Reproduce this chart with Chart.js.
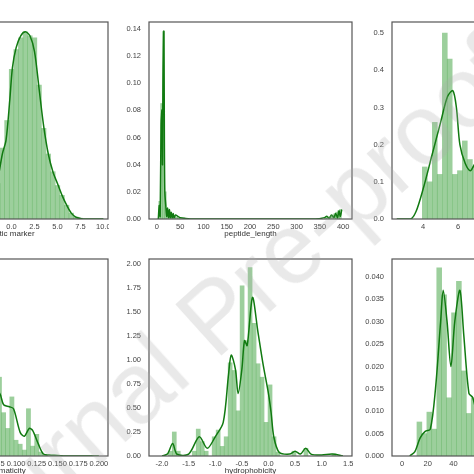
<!DOCTYPE html>
<html>
<head>
<meta charset="utf-8">
<script src="https://cdn.jsdelivr.net/npm/chart.js@4.4.1/dist/chart.umd.min.js"></script>
<style>
  body { margin: 0; width: 474px; height: 474px; overflow: hidden; background: #fff; position: relative; }
  .box { position: absolute; width: 244px; height: 223px; }
  #wm { position: absolute; left: 215px; top: 315px; font: 100px "Liberation Sans", Arial, sans-serif; color: rgba(170,170,170,0.26);
        transform: translate(-50%, -50%) rotate(-42deg); white-space: nowrap; pointer-events: none; }
</style>
</head>
<body>
<div class="box" style="left:-135px;top:16px"><canvas id="c1"></canvas></div>
<div class="box" style="left:109px;top:16px"><canvas id="c2"></canvas></div>
<div class="box" style="left:352px;top:16px"><canvas id="c3"></canvas></div>
<div class="box" style="left:-135px;top:253px"><canvas id="c4"></canvas></div>
<div class="box" style="left:109px;top:253px"><canvas id="c5"></canvas></div>
<div class="box" style="left:352px;top:253px"><canvas id="c6"></canvas></div>
<div id="wm">Journal Pre-proof</div>
<script>
// top left: marker
const tlBinX = [-2.0, -1.5, -1.0, -0.5, 0.0, 0.5, 1.0, 1.5, 2.0, 2.5, 3.0, 3.5, 4.0, 4.5, 5.0, 5.5, 6.0, 6.5, 7.0, 7.5];
const tlBinY = [0.08, 0.18, 0.36, 0.5, 0.76, 0.86, 0.92, 0.95, 0.93, 0.92, 0.68, 0.46, 0.33, 0.24, 0.17, 0.12, 0.07, 0.03, 0.01, 0.004];
const tlKdeX = [-4, -3, -2, -1.5, -1, -0.6, -0.2, 0.1, 0.5, 1.0, 1.5, 2.0, 2.5, 3.0, 3.5, 4.0, 4.5, 5.0, 5.5, 6.0, 6.5, 7.0, 7.5, 8.0, 10.0];
const tlKdeY = [0, 0.02, 0.1, 0.2, 0.33, 0.4, 0.6, 0.77, 0.87, 0.93, 0.95, 0.93, 0.85, 0.66, 0.47, 0.33, 0.24, 0.18, 0.12, 0.07, 0.03, 0.01, 0.003, 0, 0];

// top middle: peptide_length
const tmBinX = [2, 6, 10, 14, 18, 22, 26, 30, 34, 38, 42, 46, 50, 54, 58, 362, 366, 370, 374, 378, 382, 386, 390, 394];
const tmBinY = [0, 0.013, 0.085, 0.138, 0.02, 0.007, 0.005, 0.004, 0.003, 0.002, 0.0015, 0.001, 0.001, 0.0008, 0.0006, 0.0008, 0.001, 0.0015, 0.002, 0.003, 0.004, 0.005, 0.006, 0.007];
const tmKdeX = [3, 5, 7, 9, 11, 12, 13, 15, 16, 17, 19, 21, 23, 25, 27, 29, 31, 33, 35, 37, 40, 45, 50, 60, 80, 340, 360, 365, 370, 375, 380, 384, 388, 391, 394, 397];
const tmKdeY = [0, 0.01, 0.002, 0.07, 0.08, 0.04, 0.1, 0.138, 0.06, 0.02, 0.01, 0.002, 0.008, 0.001, 0.007, 0.001, 0.005, 0.001, 0.004, 0.001, 0.003, 0.002, 0.001, 0.0005, 0, 0, 0.001, 0.002, 0.0005, 0.003, 0.001, 0.004, 0.001, 0.006, 0.002, 0.007];

// top right: length
const trBinX = [4.10, 4.38, 4.67, 4.95, 5.24, 5.52, 5.81, 6.10, 6.38, 6.67, 6.95, 7.24, 7.52, 7.81, 8.10, 8.38];
const trBinY = [0.14, 0.1, 0.26, 0.12, 0.5, 0.43, 0.12, 0.13, 0.21, 0.16, 0.14, 0.12, 0.08, 0.05, 0.03, 0.02];
const trKdeX = [2.5, 3.3, 3.6, 4.0, 4.5, 5.0, 5.4, 5.7, 5.9, 6.1, 6.4, 6.7, 7.0, 7.3, 7.8, 8.5, 9.5, 10.5, 13.5];
const trKdeY = [0, 0, 0.02, 0.08, 0.17, 0.26, 0.33, 0.345, 0.3, 0.2, 0.15, 0.13, 0.15, 0.14, 0.1, 0.05, 0.01, 0, 0];

// bottom left: aromaticity
const blBinX = [0.070, 0.075, 0.080, 0.085, 0.090, 0.095, 0.100, 0.105, 0.110, 0.115, 0.120, 0.125, 0.130, 0.135];
const blBinY = [0.3, 0.36, 0.4, 0.22, 0.14, 0.3, 0.08, 0.06, 0.03, 0.24, 0.05, 0.11, 0.02, 0.005];
const blKdeX = [0.06, 0.07, 0.08, 0.085, 0.092, 0.097, 0.105, 0.11, 0.116, 0.12, 0.127, 0.133, 0.14, 0.15, 0.16, 0.2];
const blKdeY = [0.3, 0.34, 0.32, 0.26, 0.25, 0.24, 0.12, 0.1, 0.14, 0.13, 0.06, 0.01, 0.005, 0.003, 0, 0];

// bottom middle: hydrophobicity
const bmBinX = [-1.845, -1.77, -1.695, -1.395, -1.32, -1.245, -1.17, -1.02, -0.945, -0.87, -0.795, -0.72, -0.645, -0.57, -0.495, -0.42, -0.345, -0.27, -0.195, -0.12, -0.045, 0.03, 0.105, 0.18, 0.48, 0.705, 1.23];
const bmBinY = [0.05, 0.25, 0.05, 0.05, 0.28, 0.15, 0.05, 0.2, 0.27, 0.1, 0.2, 0.97, 0.89, 0.47, 1.77, 1.2, 1.96, 1.38, 0.96, 0.82, 0.35, 0.74, 0.2, 0.04, 0.05, 0.08, 0.02];
const bmKdeX = [-2.0, -1.9, -1.8, -1.72, -1.5, -1.3, -1.15, -1.0, -0.85, -0.75, -0.7, -0.62, -0.57, -0.5, -0.45, -0.4, -0.3, -0.2, -0.1, 0.0, 0.05, 0.1, 0.2, 0.4, 0.5, 0.6, 0.7, 0.8, 1.0, 1.2, 1.4];
const bmKdeY = [0, 0.02, 0.13, 0.02, 0.02, 0.2, 0.08, 0.2, 0.35, 0.85, 1.05, 0.9, 0.65, 0.9, 1.2, 1.15, 1.65, 1.3, 0.95, 0.65, 0.45, 0.2, 0.04, 0.02, 0.05, 0.02, 0.08, 0.02, 0.01, 0.02, 0];

// bottom right
const brBinX = [13.5, 17.4, 21.2, 25.0, 28.9, 32.7, 36.5, 40.4, 44.2, 48.1, 51.9, 55.7, 59.6, 63.4];
const brBinY = [0.0076, 0.005, 0.0098, 0.006, 0.042, 0.036, 0.013, 0.032, 0.039, 0.019, 0.0095, 0.013, 0.006, 0.003];
const brKdeX = [6, 10, 14, 18, 22, 26, 30, 32, 35, 38, 41, 45, 48, 52, 55, 60, 66, 75];
const brKdeY = [0, 0.001, 0.004, 0.0055, 0.006, 0.015, 0.03, 0.037, 0.03, 0.02, 0.03, 0.037, 0.027, 0.014, 0.013, 0.007, 0.002, 0];

const FONT = "'Liberation Sans', Arial, sans-serif";

const frame = {
  id: 'frame',
  afterDraw(chart) {
    const a = chart.chartArea, ctx = chart.ctx;
    ctx.save();
    ctx.strokeStyle = '#555';
    ctx.lineWidth = 1.2;
    ctx.strokeRect(a.left, a.top, a.right - a.left, a.bottom - a.top);
    ctx.restore();
  }
};

function pts(xs, ys) { return xs.map((x, i) => ({ x: x, y: ys[i] })); }

// ticks on every multiple of step inside the range
function onStep(step) {
  return function (scale) {
    const out = [];
    for (let k = Math.ceil(scale.min / step - 1e-6); k * step <= scale.max + 1e-9; k++) {
      out.push({ value: +(k * step).toFixed(6) });
    }
    scale.ticks = out;
  };
}

function makeChart(id, binX, binY, kdeX, kdeY, o) {
  new Chart(document.getElementById(id), {
    type: 'bar',
    data: {
      datasets: [
        { type: 'line', data: pts(kdeX, kdeY), borderColor: '#117a11', borderWidth: 1.5, pointRadius: 0, tension: 0.3, order: 0 },
        { data: pts(binX, binY), backgroundColor: 'rgba(90,175,90,0.6)', barPercentage: 1, categoryPercentage: 1, order: 1 }
      ]
    },
    options: {
      animation: false,
      responsive: true,
      maintainAspectRatio: false,
      layout: { padding: { top: 6, right: 1 } },
      plugins: { legend: { display: false }, tooltip: { enabled: false } },
      scales: {
        x: {
          type: 'linear', min: o.xmin, max: o.xmax, offset: false,
          grid: { display: false, drawTicks: false, tickLength: 0 }, border: { display: false },
          ticks: { color: '#444', font: { family: FONT, size: 7.5 }, padding: 3, maxRotation: 0, autoSkip: false,
                   callback: v => v.toFixed(o.xdec) },
          afterBuildTicks: onStep(o.xstep),
          afterFit: s => { s.height = 20; s.paddingLeft = 0; s.paddingRight = 0; },
          title: { display: true, text: o.label, color: '#333', font: { family: FONT, size: 8 }, padding: { top: 0, bottom: 0 } }
        },
        y: {
          min: 0, max: o.ymax,
          grid: { display: false, drawTicks: false, tickLength: 0 }, border: { display: false },
          ticks: { color: '#444', font: { family: FONT, size: 7.5 }, padding: 8, autoSkip: false,
                   callback: v => v.toFixed(o.ydec) },
          afterBuildTicks: onStep(o.ystep),
          afterFit: s => { s.width = 40; s.paddingTop = 0; s.paddingBottom = 0; }
        }
      }
    },
    plugins: [frame]
  });
}

makeChart('c1', tlBinX, tlBinY, tlKdeX, tlKdeY, { xmin: -11.6, xmax: 10.5, xstep: 2.5, xdec: 1, ymax: 1.0, ystep: 0.2, ydec: 1, label: 'aliphatic marker' });
makeChart('c2', tmBinX, tmBinY, tmKdeX, tmKdeY, { xmin: -17, xmax: 419, xstep: 50, xdec: 0, ymax: 0.145, ystep: 0.02, ydec: 2, label: 'peptide_length' });
makeChart('c3', trBinX, trBinY, trKdeX, trKdeY, { xmin: 2.23, xmax: 13.8, xstep: 2, xdec: 0, ymax: 0.53, ystep: 0.1, ydec: 1, label: 'length' });
makeChart('c4', blBinX, blBinY, blKdeX, blKdeY, { xmin: -0.034, xmax: 0.211, xstep: 0.025, xdec: 3, ymax: 1.0, ystep: 0.2, ydec: 1, label: 'aromaticity' });
makeChart('c5', bmBinX, bmBinY, bmKdeX, bmKdeY, { xmin: -2.245, xmax: 1.57, xstep: 0.5, xdec: 1, ymax: 2.05, ystep: 0.25, ydec: 2, label: 'hydrophobicity' });
makeChart('c6', brBinX, brBinY, brKdeX, brKdeY, { xmin: -7.8, xmax: 150, xstep: 20, xdec: 0, ymax: 0.044, ystep: 0.005, ydec: 3, label: 'helix' });
</script>
</body>
</html>
